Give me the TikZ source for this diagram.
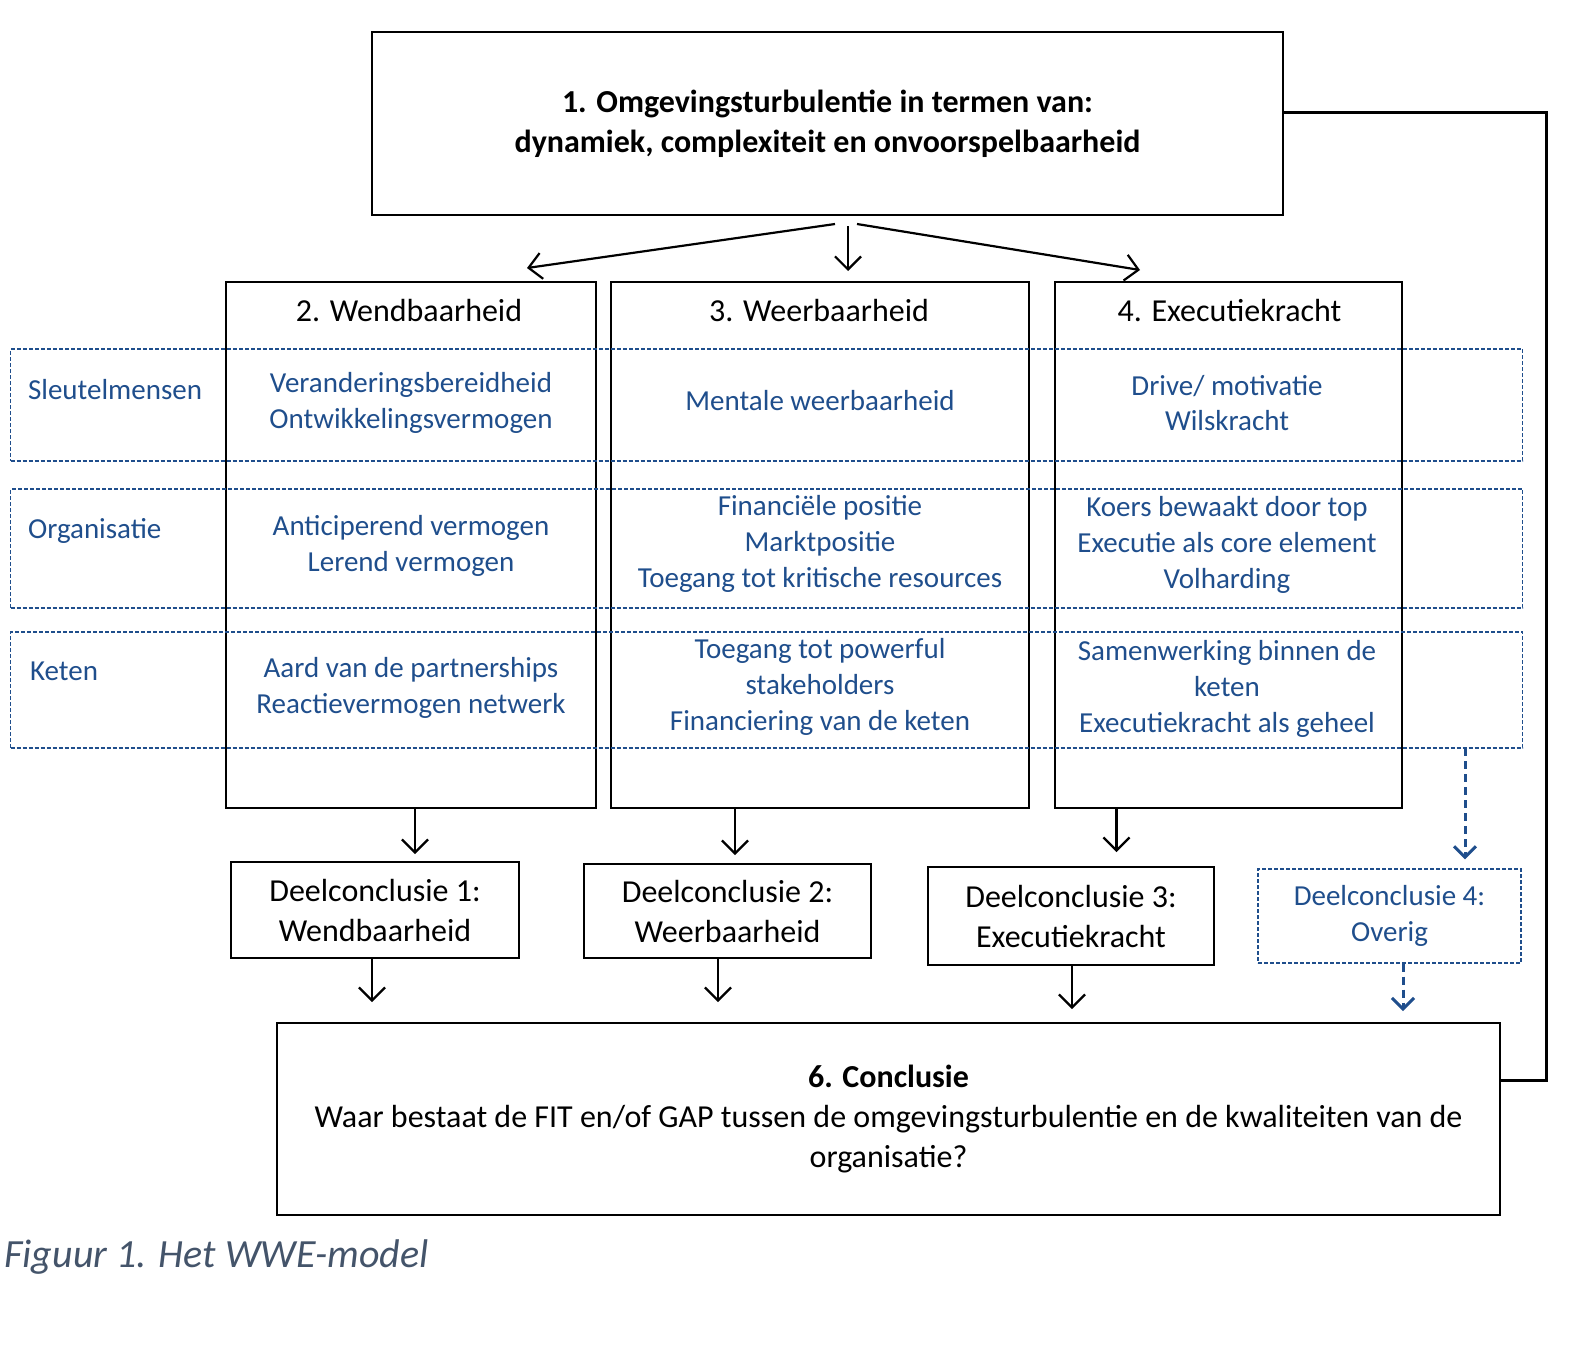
\documentclass[tikz,border=0pt]{standalone}
\usepackage{fontspec}
\setmainfont{Carlito}
\usepackage{xcolor}
\definecolor{wweblue}{HTML}{1F4E8C}
\definecolor{capgrey}{HTML}{44546A}
\usetikzlibrary{arrows.meta,positioning}

\begin{document}
\begin{tikzpicture}[x=0.5pt,y=-0.5pt,
    box/.style={draw,line width=1pt,inner sep=0pt},
    row/.style={draw=wweblue,line width=0.6pt,dash pattern=on 2pt off 1pt,inner sep=0pt},
    item/.style={text=wweblue,align=center,font=\fontsize{14.5}{17.8}\selectfont},
    head/.style={align=center,font=\fontsize{16}{20}\selectfont},
    arr/.style={-{Straight Barb[length=6.5pt,width=13pt]},line width=1.1pt},
    dasharr/.style={-{Straight Barb[length=5.5pt,width=11pt]},wweblue,line width=1.5pt,dash pattern=on 4pt off 2.5pt}]
        \useasboundingbox (0,0) rectangle (1595,1356);

        % draw top box
        \node[box,head,minimum width=455.5pt,minimum height=91.5pt] (top) at (827.5,123.5)
          {\bfseries 1. Omgevingsturbulentie in termen van:\\ \bfseries dynamiek, complexiteit en onvoorspelbaarheid};

        % draw columns
        \node[box,minimum width=185pt,minimum height=263pt] (colW) at (411,545) {};
        \node[box,minimum width=209pt,minimum height=263pt] (colR) at (820,545) {};
        \node[box,minimum width=173.5pt,minimum height=263pt] (colE) at (1228.5,545) {};
        \node[head] (hW) at (409,311) {2. Wendbaarheid};
        \node[head] (hR) at (819,311) {3. Weerbaarheid};
        \node[head] (hE) at (1229.5,311) {4. Executiekracht};

        % draw dashed rows
        \foreach \i/\yc/\h in {1/405/56,2/548.5/59.5,3/690/58}
          \node[row,minimum width=756pt,minimum height=\h pt] (row\i) at (766.5,\yc) {};

        % draw row labels
        \node[item,anchor=west] (lbSl) at (21,390) {Sleutelmensen};
        \node[item,anchor=west] (lbOrg) at (21,531) {Organisatie};
        \node[item,anchor=west] (lbKet) at (23,671) {Keten};

        % draw row items
        \node[item] (slW) at (411,403) {Veranderingsbereidheid\\Ontwikkelingsvermogen};
        \node[item] (slR) at (820,401) {Mentale weerbaarheid};
        \node[item] (slE) at (1227,403) {Drive/ motivatie\\Wilskracht};
        \node[item] (orgW) at (411,546) {Anticiperend vermogen\\Lerend vermogen};
        \node[item] (orgR) at (820,544) {Financiële positie\\Marktpositie\\Toegang tot kritische resources};
        \node[item] (orgE) at (1227,545) {Koers bewaakt door top\\Executie als core element\\Volharding};
        \node[item] (ketW) at (411,688) {Aard van de partnerships\\Reactievermogen netwerk};
        \node[item] (ketR) at (820,687) {Toegang tot powerful\\stakeholders\\Financiering van de keten};
        \node[item] (ketE) at (1227,689) {Samenwerking binnen de\\keten\\Executiekracht als geheel};

        % draw partial conclusions
        \node[box,head,minimum width=144pt,minimum height=48pt] (dcW) at (375,910) {Deelconclusie 1:\\Wendbaarheid};
        \node[box,head,minimum width=143.5pt,minimum height=47pt] (dcR) at (727.5,911) {Deelconclusie 2:\\Weerbaarheid};
        \node[box,head,minimum width=143pt,minimum height=49pt] (dcE) at (1071,916) {Deelconclusie 3:\\Executiekracht};
        \node[row,item,minimum width=131.5pt,minimum height=47pt] (dcO) at (1389.5,916) {Deelconclusie 4:\\Overig};

        % draw conclusion
        \node[box,head,minimum width=611.5pt,minimum height=96pt] (concl) at (888.5,1119)
          {\bfseries 6. Conclusie\\Waar bestaat de FIT en/of GAP tussen de omgevingsturbulentie en de kwaliteiten van de\\organisatie?};

        % draw arrows from top box
        \coordinate (inW) at (527,268);
        \coordinate (inE) at (1140,270);
        \draw[arr] ([xshift=3.75pt,yshift=-4pt]top.south) -- (inW);
        \draw[arr] ([xshift=10.25pt,yshift=-5pt]top.south) -- ++(0,45);
        \draw[arr] ([xshift=14.75pt,yshift=-4pt]top.south) -- (inE);

        % draw arrows to partial conclusions
        \draw[arr,shorten >=3.5pt] ([xshift=2pt]colW.south) -- ([xshift=2pt]colW.south |- dcW.north);
        \draw[arr,shorten >=4pt] ([xshift=-42.5pt]colR.south) -- ([xshift=-42.5pt]colR.south |- dcR.north);
        \draw[arr,shorten >=7pt] ([xshift=-56pt]colE.south) -- ([xshift=-56pt]colE.south |- dcE.north);
        \coordinate (ovTop) at (1465,748);
        \draw[dasharr,shorten >=4.5pt] (ovTop) -- (ovTop |- dcO.north);

        % draw arrows to conclusion
        \draw[arr,shorten >=10pt] ([xshift=-1.5pt]dcW.south) -- ([xshift=-1.5pt]dcW.south |- concl.north);
        \draw[arr,shorten >=10pt] ([xshift=-4.75pt]dcR.south) -- ([xshift=-4.75pt]dcR.south |- concl.north);
        \draw[arr,shorten >=6.5pt] ([xshift=0.5pt]dcE.south) -- ([xshift=0.5pt]dcE.south |- concl.north);
        \draw[dasharr,shorten >=5.5pt] ([xshift=6.75pt]dcO.south) -- ([xshift=6.75pt]dcO.south |- concl.north);

        % draw feedback line
        \coordinate (fbA) at (1546,112);
        \coordinate (fbB) at (1546,1080);
        \draw[line width=1.5pt] (top.east |- fbA) -- (fbA) -- (fbB) -- (concl.east |- fbB);

        % draw caption
        \node[anchor=west,inner sep=0pt,text=capgrey,font=\fontsize{20}{24}\selectfont\itshape] (cap) at (4,1257) {Figuur 1. Het WWE-model};
\end{tikzpicture}
\end{document}
